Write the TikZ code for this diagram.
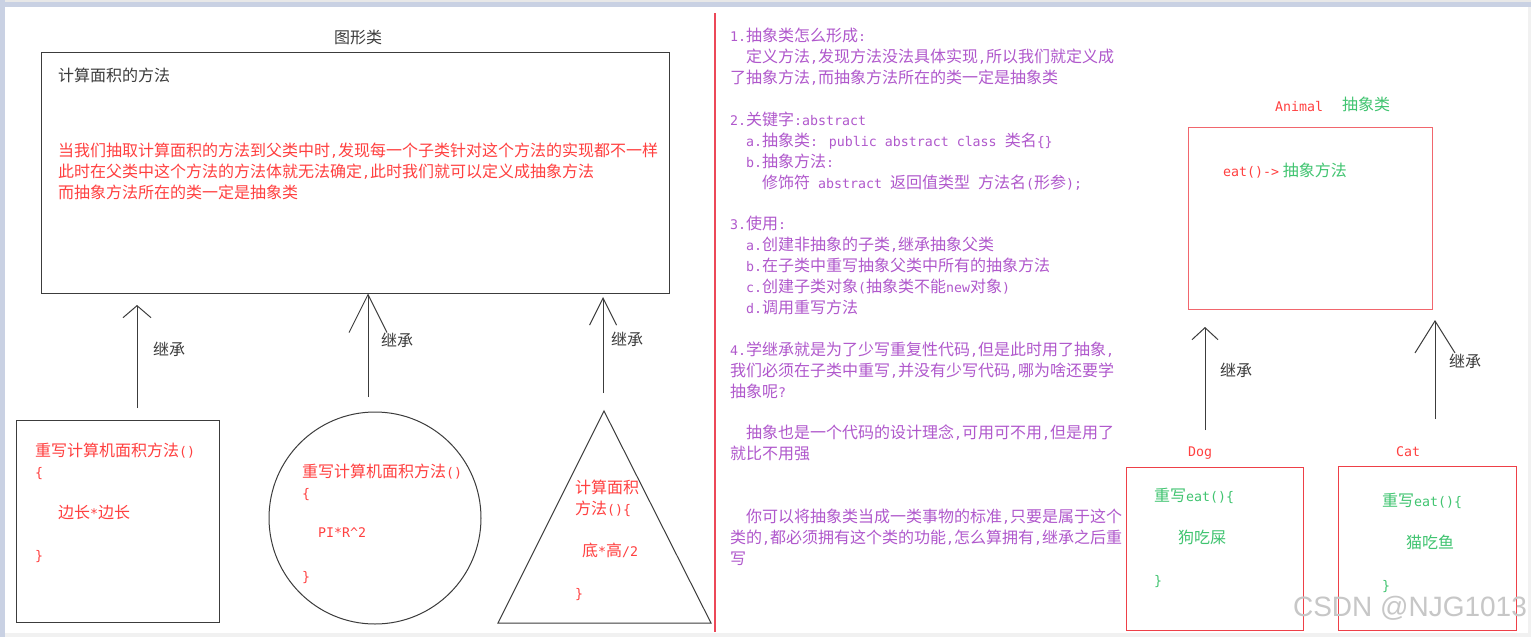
\documentclass[tikz,border=0pt]{standalone}
\usepackage{fontspec}
\setmainfont{Noto Sans CJK SC}
\newfontfamily\monofont{DejaVu Sans Mono}[Scale=0.83]
\newfontfamily\wmfont{Liberation Sans}
\usetikzlibrary{arrows.meta}
\definecolor{txtred}{RGB}{255,64,64}
\definecolor{txtpurple}{RGB}{176,88,204}
\definecolor{txtgreen}{RGB}{64,196,112}
\definecolor{boxred}{RGB}{238,64,72}
\definecolor{linered}{RGB}{236,72,88}
\definecolor{framebl}{RGB}{201,209,227}
\definecolor{framegr}{RGB}{232,232,232}
\definecolor{inkgray}{RGB}{60,60,60}
\newcommand\asc[1]{{\monofont #1}}
\newcommand\cjksize{\fontsize{16}{20.9}\selectfont}
\tikzset{
  txt/.style={anchor=north west,inner sep=0pt,align=left,font=\cjksize},
  lbl/.style={anchor=west,inner sep=0pt,font=\cjksize,text=inkgray},
  plain/.style={draw=inkgray,line width=1pt,inner sep=0pt},
  cls/.style={draw=boxred,line width=1pt,inner sep=0pt},
  inh/.style={draw=inkgray,line width=1pt},
}

\begin{document}
\begin{tikzpicture}[x=1pt,y=-1pt]
\useasboundingbox (0,0) rectangle (1531,637);
% the window frame
\fill[white] (0,0) rectangle (1531,637);
\fill[framegr] (0,0) rectangle (1531,2);
\fill[framebl] (0,2) rectangle (1531,7);
\fill[framebl] (0,0) rectangle (5,637);
\fill[framegr!60] (5,633) rectangle (1531,637);
\fill[framegr!60] (1528,7) rectangle (1531,633);

% left: the shape classes
\node[font=\cjksize,text=inkgray] (ttl) at (358,37) {图形类};
\node[plain,minimum width=628pt,minimum height=241pt] (shape) at (355,172.5) {};
\node[txt,text=inkgray] (meth) at (58,68) {计算面积的方法};
\node[txt,text=txtred] (note) at (58,143) {当我们抽取计算面积的方法到父类中时\asc{,}发现每一个子类针对这个方法的实现都不一样\\
此时在父类中这个方法的方法体就无法确定\asc{,}此时我们就可以定义成抽象方法\\
而抽象方法所在的类一定是抽象类};

\node[plain,minimum width=203pt,minimum height=202pt] (sqr) at (117.5,521) {};
\node[plain,circle,minimum size=212pt] (crc) at (375,518) {};
\coordinate (tri-top) at (604,411);
\coordinate (tri-left) at (498,623);
\coordinate (tri-right) at (711,623);
\draw[plain] (tri-top) -- (tri-left) -- (tri-right) -- cycle;

\node[txt,text=txtred] (sqr-txt) at (35,443) {重写计算机面积方法\asc{()}\\
\asc{\{}\\[20pt]%
\hspace*{23pt}边长\asc{*}边长\\[21pt]%
\asc{\}}};
\node[txt,text=txtred] (crc-txt) at (302,464) {重写计算机面积方法\asc{()}\\
\asc{\{}\\[18pt]%
\hspace*{16pt}\asc{PI*R\string^2}\\[23pt]%
\asc{\}}};
\node[txt,text=txtred] (tri-txt) at (575,480) {计算面积\\
方法\asc{()\{}\\[21pt]%
\hspace*{7pt}底\asc{*}高\asc{/2}\\[21pt]%
\asc{\}}};

% the arrows
\coordinate (a1-from) at (137,408);
\coordinate (a1-to) at (137,305);
\coordinate (a2-from) at (368,397);
\coordinate (a3-from) at (603,393);
\coordinate (a3-to) at (603,297);
\draw[inh,-{Straight Barb[length=12pt,width=28pt]}] (a1-from) -- (a1-to);
\draw[inh,-{Straight Barb[length=38pt,width=38pt]}] (a2-from) -- (a2-from |- shape.south);
\draw[inh,-{Straight Barb[length=27pt,width=27pt]}] (a3-from) -- (a3-to);
\node[lbl] (l1) at (153,349) {继承};
\node[lbl] (l2) at (381,340) {继承};
\node[lbl] (l3) at (611,339) {继承};

% divider
\draw[linered,line width=1.2pt] (715,13) -- (715,632);

% middle: the notes
\node[txt,text=txtpurple] (notes) at (730,28) {\asc{1.}抽象类怎么形成\asc{:}\\
\hspace*{16pt}定义方法\asc{,}发现方法没法具体实现\asc{,}所以我们就定义成\\
了抽象方法\asc{,}而抽象方法所在的类一定是抽象类\\[20.9pt]%
\asc{2.}关键字\asc{:abstract}\\
\hspace*{16pt}\asc{a.}抽象类\asc{: public abstract class }类名\asc{\{\}}\\
\hspace*{16pt}\asc{b.}抽象方法\asc{:}\\
\hspace*{32pt}修饰符\asc{ abstract }返回值类型\asc{ }方法名\asc{(}形参\asc{);}\\[20.9pt]%
\asc{3.}使用\asc{:}\\
\hspace*{16pt}\asc{a.}创建非抽象的子类\asc{,}继承抽象父类\\
\hspace*{16pt}\asc{b.}在子类中重写抽象父类中所有的抽象方法\\
\hspace*{16pt}\asc{c.}创建子类对象\asc{(}抽象类不能\asc{new}对象\asc{)}\\
\hspace*{16pt}\asc{d.}调用重写方法\\[20.9pt]%
\asc{4.}学继承就是为了少写重复性代码\asc{,}但是此时用了抽象\asc{,}\\
我们必须在子类中重写\asc{,}并没有少写代码\asc{,}哪为啥还要学\\
抽象呢\asc{?}\\[20.9pt]%
\hspace*{16pt}抽象也是一个代码的设计理念\asc{,}可用可不用\asc{,}但是用了\\
就比不用强\\[41.8pt]%
\hspace*{16pt}你可以将抽象类当成一类事物的标准\asc{,}只要是属于这个\\
类的\asc{,}都必须拥有这个类的功能\asc{,}怎么算拥有\asc{,}继承之后重\\
写};

% right: Animal, Dog, Cat
\node[lbl,text=txtred] (animal-name) at (1275,107) {\asc{Animal}};
\node[lbl,text=txtgreen] (animal-kind) at (1342,104) {抽象类};
\node[cls,draw=boxred!80,minimum width=244pt,minimum height=182pt] (animal) at (1310,218) {};
\node[lbl,text=txtred] (eat) at (1223,171) {\asc{eat()->} \textcolor{txtgreen}{抽象方法}};

\node[lbl,text=txtred] (dog-name) at (1188,453) {\asc{Dog}};
\node[cls,minimum width=177pt,minimum height=163pt] (dog) at (1214.5,548.5) {};
\node[txt,text=txtgreen] (dog-txt) at (1154,488) {重写\asc{eat()\{}\\[21pt]%
\hspace*{24pt}狗吃屎\\[21pt]%
\asc{\}}};

\node[lbl,text=txtred] (cat-name) at (1396,452) {\asc{Cat}};
\node[cls,minimum width=178pt,minimum height=164pt] (cat) at (1427,548) {};
\node[txt,text=txtgreen] (cat-txt) at (1382,493) {重写\asc{eat()\{}\\[21pt]%
\hspace*{24pt}猫吃鱼\\[21pt]%
\asc{\}}};

\coordinate (a4-from) at (1205,430);
\coordinate (a5-from) at (1435,419);
\draw[inh,-{Straight Barb[length=12pt,width=26pt]}] (a4-from) -- (1205,327);
\draw[inh,-{Straight Barb[length=32pt,width=40pt]}] (a5-from) -- (1435,320);
\node[lbl] (l4) at (1220,370) {继承};
\node[lbl] (l5) at (1449,361) {继承};

\node[text=black!22,font=\wmfont\fontsize{28}{30}\selectfont] (wm) at (1410,608) {CSDN @NJG1013};
\end{tikzpicture}
\end{document}
